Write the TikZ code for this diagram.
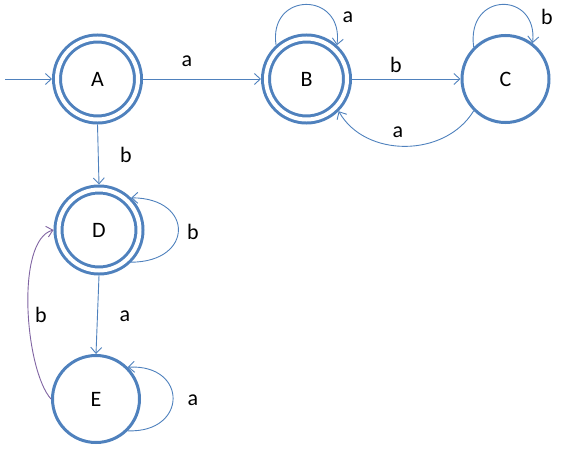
\documentclass[tikz,border=0pt]{standalone}
\usepackage{fontspec}
\setmainfont{Carlito}
\usetikzlibrary{arrows.meta}
\definecolor{stblue}{RGB}{79,129,189}
\definecolor{stpurple}{RGB}{128,100,162}
\begin{document}
\begin{tikzpicture}[x=1pt,y=-1pt,
  every node/.style={font=\fontsize{22}{25}\selectfont},
  accstate/.style={circle,draw=stblue,line width=3pt,double=white,double distance=4pt,minimum size=81pt,inner sep=0pt,outer sep=5pt},
  plainstate/.style={circle,draw=stblue,line width=3pt,minimum size=87pt,inner sep=0pt,outer sep=1.5pt},
  trans/.style={draw=stblue,line width=0.9pt,-{Straight Barb[length=6pt,width=11pt,line width=0.9pt]}},
  purpletrans/.style={trans,draw=stpurple},
  lbl/.style={inner sep=0pt}]
\useasboundingbox (0,0) rectangle (575,455);
\node[accstate] (A) at (97.5,79) {A};
\node[accstate] (B) at (306.5,79) {B};
\node[plainstate] (C) at (505.5,79) {C};
\node[accstate] (D) at (99,230) {D};
\node[plainstate] (E) at (96,399) {E};
\coordinate (start) at (5,79);
% transitions
\draw[trans] (start) -- (A.west);
\draw[trans] (A.east) -- (B.west);
\draw[trans] (A.south) -- (D.north);
\draw[trans] (B.east) -- (C.west);
\draw[trans] (C.225) .. controls (445,158) and (365,158) .. (B.-45);
\draw[trans] (B.132) .. controls (268,-9) and (344,-9) .. (B.48);
\draw[trans] (C.135) .. controls (466,-9) and (538,-9) .. (C.53);
\draw[trans] (D.-45) .. controls (194,262) and (194,198) .. (D.45);
\draw[trans] (D.south) -- (E.north);
\draw[trans] (E.-45) .. controls (188,433) and (188,364) .. (E.45);
\draw[purpletrans] (E.west) .. controls (25,370) and (15,240) .. (D.west);
% labels
\node[lbl] (lab) at (187,61) {a};
\node[lbl] (lad) at (126,155) {b};
\node[lbl] (lbb) at (348,17) {a};
\node[lbl] (lbc) at (396,65) {b};
\node[lbl] (lcb) at (398,132) {a};
\node[lbl] (lcc) at (547,17) {b};
\node[lbl] (ldd) at (193,232) {b};
\node[lbl] (lde) at (125,316) {a};
\node[lbl] (led) at (41,315) {b};
\node[lbl] (lee) at (193,400) {a};
\end{tikzpicture}
\end{document}
